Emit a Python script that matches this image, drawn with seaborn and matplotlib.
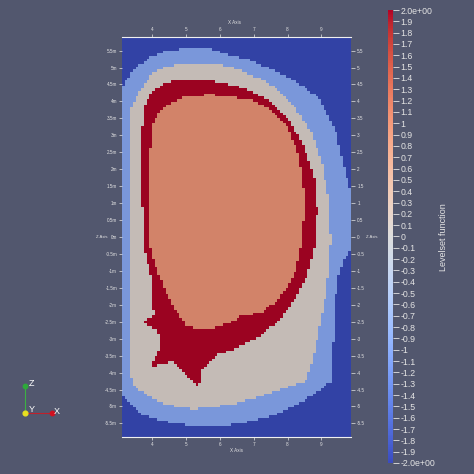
import numpy as np
import pandas as pd
import matplotlib
matplotlib.use("Agg")
import matplotlib.pyplot as plt
from matplotlib.path import Path
from matplotlib.colors import Normalize, ListedColormap
from matplotlib.cm import ScalarMappable
import seaborn as sns

sns.set_style("white")
plt.rcParams['font.family'] = ['Liberation Sans', 'DejaVu Sans']

BG = '#52576e'
TXT = '#e4e4e4'

# region outlines (R and Z in metres)
band_r = [4.83, 5.71, 6.30, 6.89, 7.48, 8.28, 8.96, 9.46, 9.63, 9.81, 9.95, 9.95, 9.66, 9.49, 9.43,
          9.37, 9.34, 8.57, 7.57, 6.60, 5.42, 4.44, 3.65, 3.20, 3.00, 3.00, 3.14, 3.44, 3.94, 4.38]
band_z = [5.59, 5.59, 5.41, 5.27, 5.00, 4.62, 4.12, 3.14, 2.35, 1.67, 1.22, -0.25, -0.75, -1.28, -2.17,
          -3.35, -4.29, -4.82, -5.32, -5.56, -5.65, -5.50, -5.27, -4.82, -4.59, 4.53, 4.53, 5.00, 5.35, 5.53]

gap_r = [5.03, 5.86, 6.60, 7.48, 8.22, 8.72, 9.04, 9.25, 9.31, 9.25, 9.13, 8.96, 8.78, 8.57, 7.57,
         6.39, 5.21, 4.38, 3.79, 3.44, 3.29, 3.29, 3.44, 3.94, 4.38]
gap_z = [5.15, 5.15, 4.97, 4.56, 3.88, 3.14, 2.26, 1.08, -0.10, -0.99, -1.87, -2.76, -3.64, -4.29, -4.62,
         -4.97, -5.12, -4.97, -4.71, -4.38, -3.94, 3.73, 4.03, 4.82, 5.06]

ring_r = [4.74, 5.86, 6.74, 7.48, 8.07, 8.51, 8.81, 8.90, 8.84, 8.60, 8.22, 7.78, 7.25, 6.60, 5.92,
          5.48, 5.36, 4.62, 3.94, 4.24, 4.15, 3.70, 4.03, 3.97, 3.94, 3.76, 3.68, 3.68, 3.73, 3.94, 4.30]
ring_z = [4.68, 4.62, 4.41, 4.03, 3.44, 2.70, 1.81, 0.78, -0.25, -1.14, -1.87, -2.46, -2.91, -3.26, -3.50,
          -3.94, -4.47, -3.70, -3.85, -3.20, -2.76, -2.55, -2.32, -1.87, -1.14, -0.40, 1.08, 3.14, 3.88, 4.26, 4.53]

core_r = [4.53, 4.91, 5.71, 6.89, 7.48, 8.01, 8.31, 8.48, 8.51, 8.45, 8.31, 8.07, 7.72, 7.25, 6.60,
          6.30, 5.62, 5.03, 4.59, 4.24, 4.03, 3.88, 3.88, 3.91, 3.94, 4.03, 4.24]
core_z = [3.97, 4.17, 4.23, 4.09, 3.79, 3.29, 2.55, 1.67, 0.78, -0.10, -0.84, -1.43, -1.87, -2.23, -2.37,
          -2.55, -2.76, -2.67, -2.02, -1.28, -0.69, -0.10, 0.78, 1.96, 2.85, 3.44, 3.79]

# levelset value inside each outline (outside everything: -2)
region_values = {'band': -1.0, 'gap': 0.1, 'ring': 2.0, 'core': 1.0}

r_min, r_max = 3.12, 9.87
z_min, z_max = -5.90, 5.90
n_r, n_z = 84, 148

r_c = np.linspace(r_min, r_max, n_r)
z_c = np.linspace(z_max, z_min, n_z)
RR, ZZ = np.meshgrid(r_c, z_c)
pts = np.column_stack([RR.ravel(), ZZ.ravel()])

field = np.full(RR.size, -2.0)
for name, rs, zs in [('band', band_r, band_z), ('gap', gap_r, gap_z),
                     ('ring', ring_r, ring_z), ('core', core_r, core_z)]:
    inside = Path(np.column_stack([rs, zs])).contains_points(pts)
    field[inside] = region_values[name]
df = pd.DataFrame(field.reshape(RR.shape), index=np.round(z_c, 2), columns=np.round(r_c, 2))

# shaded version of cool-to-warm for the lit surface
cols = plt.get_cmap('coolwarm')(np.linspace(0, 1, 256))
cols[:, :3] *= 0.86
surface_cmap = ListedColormap(cols)

fig = plt.figure(figsize=(4.74, 4.74), dpi=100, facecolor=BG)
W = 474.0
pos = [122 / W, 1 - 437 / W, 229 / W, 400 / W]

ax = fig.add_axes(pos)
sns.heatmap(df, ax=ax, cmap=surface_cmap, vmin=-2, vmax=2, cbar=False,
            xticklabels=False, yticklabels=False)
ax.set_xlabel('')
ax.set_ylabel('')

# paraview style axes grid
ax_t = fig.add_axes(pos, facecolor='none')
ax_t.set_xlim(r_min, r_max)
ax_t.set_ylim(z_min, z_max)
for s in ['left', 'right']:
    ax_t.spines[s].set_visible(False)
for s in ['top', 'bottom']:
    ax_t.spines[s].set_color('#f0f0f0')
    ax_t.spines[s].set_linewidth(0.8)
x_ticks = [4, 5, 6, 7, 8, 9]
z_ticks = np.arange(-11, 12) / 2
ax_t.set_xticks(x_ticks)
ax_t.set_xticklabels([f'{t:g}' for t in x_ticks])
ax_t.set_yticks(z_ticks)
ax_t.set_yticklabels([f'{t:g}m' for t in z_ticks])
ax_t.tick_params(axis='x', top=True, labeltop=True, bottom=True, labelbottom=True,
                 direction='out', length=2, width=0.5, colors=TXT, labelsize=3.3, pad=1.5)
ax_t.tick_params(axis='y', left=True, direction='out', length=2, width=0.5,
                 colors=TXT, labelsize=3.3, pad=1.5)
ax_r = ax_t.twinx()
ax_r.set_ylim(z_min, z_max)
for s in ax_r.spines.values():
    s.set_visible(False)
ax_r.set_yticks(z_ticks)
ax_r.set_yticklabels([f'{t:g}' for t in z_ticks])
ax_r.tick_params(axis='y', direction='out', length=3, width=0.5, colors=TXT, labelsize=3.3, pad=1.5)

fig.text(235 / W, 1 - 23 / W, 'X Axis', color=TXT, fontsize=3.3, ha='center', va='center')
fig.text(237 / W, 1 - 450 / W, 'X Axis', color=TXT, fontsize=3.3, ha='center', va='center')
fig.text(108 / W, 1 - 237 / W, 'Z Axis', color=TXT, fontsize=3.1, ha='right', va='center')
fig.text(366 / W, 1 - 237 / W, 'Z Axis', color=TXT, fontsize=3.1, ha='left', va='center')

# colour legend
cax = fig.add_axes([388 / W, 1 - 463 / W, 5 / W, 453 / W])
cb = fig.colorbar(ScalarMappable(Normalize(-2, 2), cmap='coolwarm'), cax=cax)
cb.outline.set_visible(False)
cb_ticks = np.round(np.arange(-20, 21) / 10, 1)
cb_labels = [f'{t:g}' for t in cb_ticks]
cb_labels[0] = '-2.0e+00'
cb_labels[-1] = '2.0e+00'
cb.set_ticks(cb_ticks)
cb.set_ticklabels(cb_labels)
cax.tick_params(colors=TXT, length=4, width=0.6, labelsize=6.3, pad=1.5)
fig.text(443 / W, 1 - 237 / W, 'Levelset function', color=TXT, fontsize=6.5,
         rotation=90, ha='center', va='center')

# orientation triad
ov = fig.add_axes([0, 0, 1, 1], facecolor='none')
ov.set_xlim(0, W)
ov.set_ylim(W, 0)
ov.axis('off')
ov.plot([25, 25], [413, 386], color='#3cb043', lw=0.8)
ov.plot([25, 52], [413, 413], color='#c0202a', lw=0.8)
ov.plot(25, 386, 'o', color='#2ea83a', ms=3.2)
ov.plot(52, 413, 'o', color='#d01020', ms=3.2)
ov.plot(25, 413, 'o', color='#e8e020', ms=3.4)
ov.text(29, 384, 'Z', color='white', fontsize=6.5, va='center')
ov.text(29, 410, 'Y', color='white', fontsize=6.5, va='center')
ov.text(54, 411, 'X', color='white', fontsize=6.5, va='center')

fig.savefig('out.png', dpi=100, facecolor=BG)
